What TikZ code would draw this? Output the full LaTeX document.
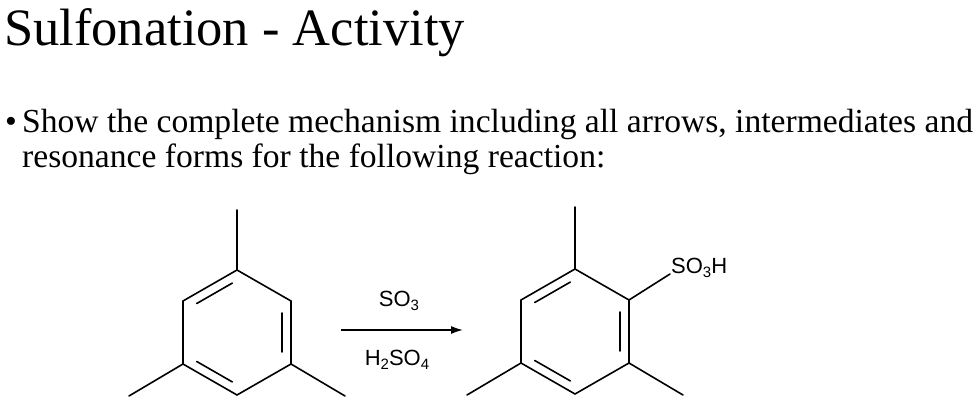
\documentclass[tikz,border=0pt]{standalone}
\usepackage{fontspec}
\usetikzlibrary{calc,arrows.meta}
\setmainfont{Liberation Serif}
\newfontfamily\chemfont{Liberation Sans}
\newcommand{\chsub}[1]{\raisebox{-0.35ex}{\fontsize{15}{16}\selectfont #1}}
\begin{document}
\begin{tikzpicture}[x=1pt,y=-1pt,bond/.style={line width=1.6pt,line cap=round},
 lab/.style={font=\chemfont\fontsize{22}{24}\selectfont,inner sep=0pt}]
\useasboundingbox (0,0) rectangle (979,403);
\node[anchor=base west,inner sep=0pt,font=\fontsize{52.5}{56}\selectfont] (title) at (4,46) {Sulfonation - Activity};
\node[anchor=base west,inner sep=0pt,font=\fontsize{33.6}{36}\selectfont] (b) at (5,133) {\textbullet};
\node[anchor=base west,inner sep=0pt,font=\fontsize{33.6}{36}\selectfont] (l1) at (22,133) {Show the complete mechanism including all arrows, intermediates and};
\node[anchor=base west,inner sep=0pt,font=\fontsize{33.6}{36}\selectfont] (l2) at (22,168) {resonance forms for the following reaction:};
% left ring
\foreach \n/\x/\y in {t/237/270,ul/183/301,ur/291/301,ll/183/364,lr/291/364,bo/237/395,m1/237/210,m2/129/396,m3/345/396}
  \coordinate (A\n) at (\x,\y);
\draw[bond] (At)--(Aur)--(Alr)--(Abo)--(All)--(Aul)--cycle;
\draw[bond] (At)--(Am1) (All)--(Am2) (Alr)--(Am3);
\draw[bond] ($(At)!0.17!(Aul)+(4.5,7.8)$) -- ($(Aul)!0.17!(At)+(4.5,7.8)$);
\draw[bond] (282,313) -- (282,352);
\draw[bond] ($(All)!0.17!(Abo)+(4.5,-7.8)$) -- ($(Abo)!0.17!(All)+(4.5,-7.8)$);
% right ring
\foreach \n/\x/\y in {t/575/269,ul/521/300,ur/629/300,ll/521/363,lr/629/363,bo/575/394,m1/575/207,m2/467/395,m3/683/395,s/670/274}
  \coordinate (B\n) at (\x,\y);
\draw[bond] (Bt)--(Bur)--(Blr)--(Bbo)--(Bll)--(Bul)--cycle;
\draw[bond] (Bt)--(Bm1) (Bll)--(Bm2) (Blr)--(Bm3) (Bur)--(Bs);
\draw[bond] ($(Bt)!0.17!(Bul)+(4.5,7.8)$) -- ($(Bul)!0.17!(Bt)+(4.5,7.8)$);
\draw[bond] (620,312) -- (620,351);
\draw[bond] ($(Bll)!0.17!(Bbo)+(4.5,-7.8)$) -- ($(Bbo)!0.17!(Bll)+(4.5,-7.8)$);
\node[lab,anchor=west] (so3h) at (671,268) {SO\chsub{3}H};
% arrow
\coordinate (a1) at (341,330); \coordinate (a2) at (463,330);
\draw[line width=1.6pt,-{Latex[length=12pt,width=8pt]}] (a1)--(a2);
\node[lab] (r1) at (399,301) {SO\chsub{3}};
\node[lab] (r2) at (397,360) {H\chsub{2}SO\chsub{4}};
\end{tikzpicture}
\end{document}
